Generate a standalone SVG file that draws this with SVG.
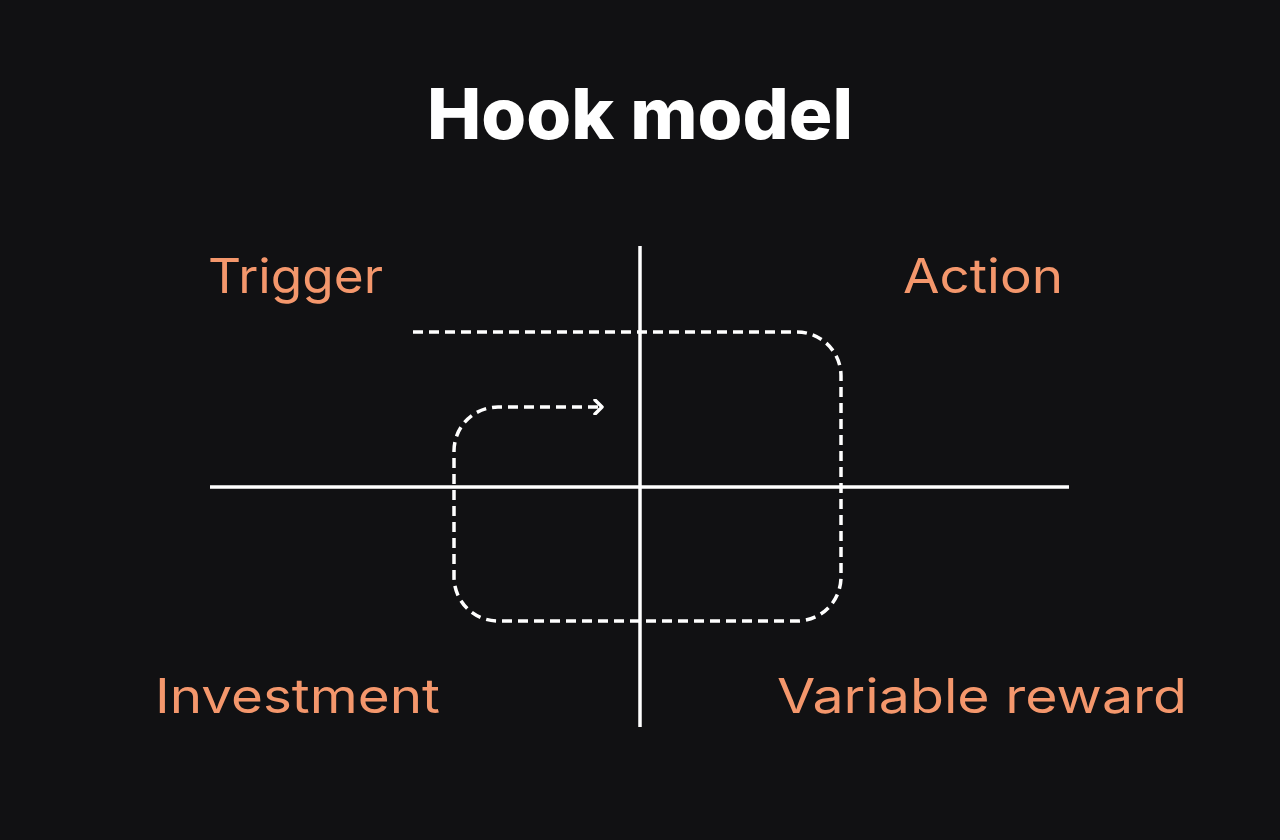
<svg xmlns="http://www.w3.org/2000/svg" width="1280" height="840" viewBox="0 0 1280 840">
<defs>
<style>
.title{font-family:Inter,"Noto Sans","Liberation Sans",sans-serif;font-weight:800;font-size:70px;fill:#ffffff}
.lbl{font-family:Inter,"Noto Sans","Liberation Sans",sans-serif;font-weight:400;font-size:48px;fill:#F4976C}
.axis{stroke:#ffffff;stroke-width:3.5;fill:none}
.dash{stroke:#ffffff;stroke-width:3.5;fill:none;stroke-dasharray:10 6}
</style>
<marker id="arr" viewBox="0 0 12 16" refX="9" refY="8" markerWidth="12" markerHeight="16" markerUnits="userSpaceOnUse" orient="auto">
<path d="M2,1 L9,8 L2,15" fill="none" stroke="#ffffff" stroke-width="3.5" stroke-linecap="round" stroke-linejoin="round"/>
</marker>
</defs>
<rect width="1280" height="840" fill="#111113"/>
<g id="title"><text class="title" x="640" y="139" text-anchor="middle" textLength="426" lengthAdjust="spacingAndGlyphs">Hook model</text></g>
<g id="connectors">
<line class="axis" x1="640" y1="246" x2="640" y2="727"/>
<line class="axis" x1="210" y1="487" x2="1069" y2="487"/>
<path class="dash" d="M413,332 H797 A44,44 0 0 1 841,376 V577 A44,44 0 0 1 797,621 H498 A44,44 0 0 1 454,577 V451 A44,44 0 0 1 498,407 H602" marker-end="url(#arr)"/>
</g>
<g id="trigger"><text class="lbl" x="295.5" y="293" text-anchor="middle" textLength="175" lengthAdjust="spacingAndGlyphs">Trigger</text></g>
<g id="action"><text class="lbl" x="983" y="293" text-anchor="middle" textLength="160" lengthAdjust="spacingAndGlyphs">Action</text></g>
<g id="investment"><text class="lbl" x="297.5" y="713" text-anchor="middle" textLength="285" lengthAdjust="spacingAndGlyphs">Investment</text></g>
<g id="variable-reward"><text class="lbl" x="982" y="713" text-anchor="middle" textLength="410" lengthAdjust="spacingAndGlyphs">Variable reward</text></g>
</svg>
